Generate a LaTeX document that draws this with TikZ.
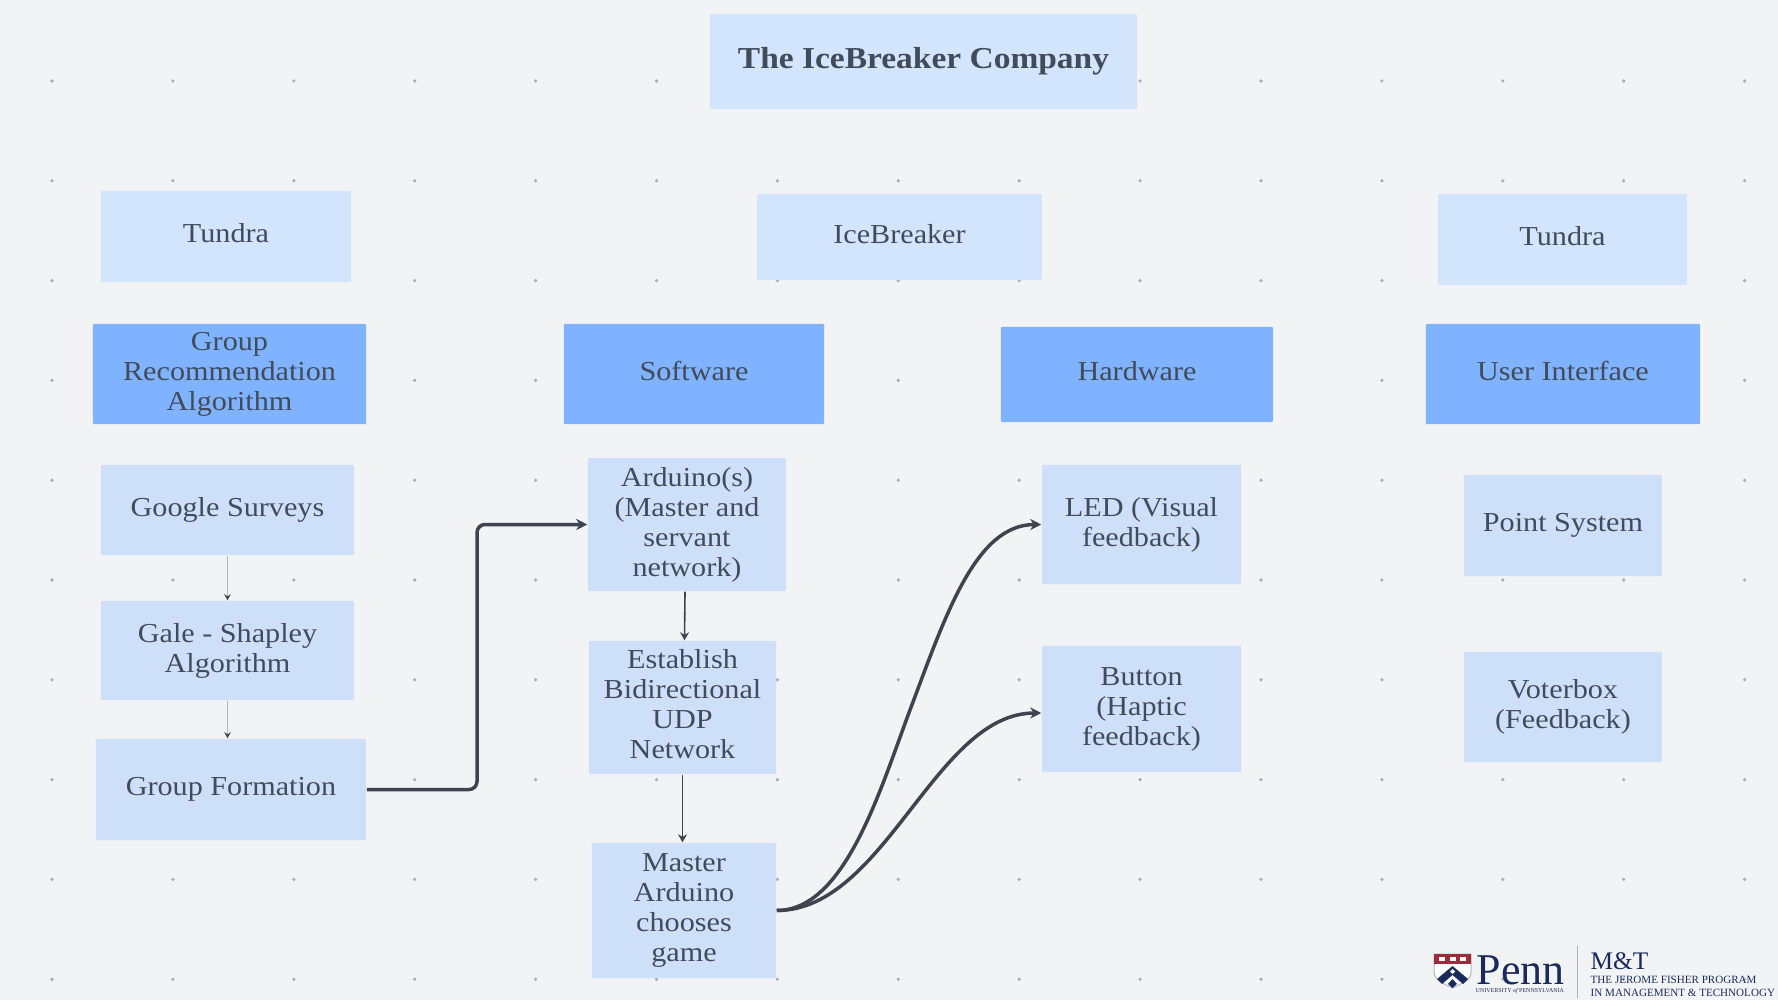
\documentclass[tikz,border=0pt]{standalone}
\usepackage{fontspec}
\usepackage{xcolor}
\setmainfont[FakeStretch=1.1]{Liberation Serif}
\newfontfamily\logofont{Liberation Serif}
\usetikzlibrary{arrows.meta,calc,positioning}

\definecolor{canvasgrey}{HTML}{F2F3F5}
\definecolor{dotgrey}{HTML}{A9ACB1}
\definecolor{inkgrey}{HTML}{414B5A}
\definecolor{linegrey}{HTML}{3D4450}
\definecolor{fadegrey}{HTML}{B4B7BC}
\definecolor{paleblue}{HTML}{D3E4FD}
\definecolor{softblue}{HTML}{CEE0F9}
\definecolor{strongblue}{HTML}{7FB2FF}
\definecolor{pennnavy}{HTML}{1B2A5C}
\definecolor{pennred}{HTML}{9E2A3A}

\tikzset{
    blockbase/.style={
        rounded corners=0.01cm,
        align=center,
        text=inkgrey,
        inner sep=0pt,
        font=\fontsize{7.8pt}{8.55pt}\selectfont
    },
    paleblock/.style={blockbase, fill=paleblue},
    softblock/.style={blockbase, fill=softblue},
    strongblock/.style={blockbase, fill=strongblue},
    lifted/.style={text depth=0.07cm},
    fadearrow/.style={
        -{Stealth[length=0.06cm,width=0.065cm,color=linegrey]},
        line width=0.015cm,
        color=fadegrey
    },
    thinarrow/.style={
        -{Stealth[length=0.08cm,width=0.09cm]},
        line width=0.016cm,
        color=linegrey
    },
    thickarrow/.style={
        -{Stealth[length=0.11cm,width=0.11cm]},
        line width=0.035cm,
        color=linegrey
    },
    logotext/.style={
        anchor=west,
        inner sep=0pt,
        text=pennnavy
    }
}

\begin{document}
\begin{tikzpicture}[x=0.01cm,y=-0.01cm]
                \useasboundingbox (0,0) rectangle (1778,1000);
                \fill[canvasgrey] (0,0) rectangle (1778,1000);

                % dot grid
                \foreach \row in {0,...,9} {
                    \foreach \col in {0,...,14} {
                        \fill[dotgrey] ({52+120.9*\col},{81+99.8*\row}) circle (0.018cm);
                    }
                }

                % top row
                \node[paleblock, minimum width=4.27cm, minimum height=0.95cm, font=\fontsize{8.65pt}{9pt}\selectfont\bfseries] (company) at (923.5,61.5) {The IceBreaker Company};
                \node[paleblock, lifted, minimum width=2.50cm, minimum height=0.91cm] (tundraleft) at (226,236.5) {Tundra};
                \node[paleblock, lifted, minimum width=2.85cm, minimum height=0.86cm] (icebreaker) at (899.5,237) {IceBreaker};
                \node[paleblock, lifted, minimum width=2.49cm, minimum height=0.91cm] (tundraright) at (1562.5,239.5) {Tundra};

                % headers
                \node[strongblock, minimum width=2.73cm, minimum height=1.00cm] (recommend) at (229.5,374) {Group\\Recommendation\\Algorithm};
                \node[strongblock, lifted, minimum width=2.60cm, minimum height=1.00cm] (software) at (694,374) {Software};
                \node[strongblock, lifted, minimum width=2.72cm, minimum height=0.95cm] (hardware) at (1137,374.5) {Hardware};
                \node[strongblock, lifted, minimum width=2.74cm, minimum height=1.00cm] (interface) at (1563,374) {User Interface};

                % left column
                \node[softblock, minimum width=2.53cm, minimum height=0.90cm] (surveys) at (227.5,510) {Google Surveys};
                \node[softblock, minimum width=2.53cm, minimum height=0.99cm] (shapley) at (227.5,650.5) {Gale - Shapley\\Algorithm};
                \node[softblock, minimum width=2.70cm, minimum height=1.01cm] (formation) at (231,789.5) {Group Formation};

                % middle column
                \node[softblock, minimum width=1.98cm, minimum height=1.33cm] (arduino) at (687,524.5) {Arduino(s)\\(Master and\\servant\\network)};
                \node[softblock, lifted, minimum width=1.87cm, minimum height=1.33cm] (establish) at (682.5,707.5) {Establish\\Bidirectional\\UDP\\Network};
                \node[softblock, minimum width=1.84cm, minimum height=1.35cm] (master) at (684,910.5) {Master\\Arduino\\chooses\\game};

                % right columns
                \node[softblock, minimum width=1.99cm, minimum height=1.19cm] (led) at (1141.5,524.5) {LED (Visual\\feedback)};
                \node[softblock, minimum width=1.99cm, minimum height=1.26cm] (button) at (1141.5,709) {Button\\(Haptic\\feedback)};
                \node[softblock, minimum width=1.98cm, minimum height=1.01cm] (points) at (1563,525.5) {Point System};
                \node[softblock, minimum width=1.98cm, minimum height=1.10cm] (voterbox) at (1563,707) {Voterbox\\(Feedback)};

                % connectors
                \draw[fadearrow] (surveys) -- (shapley);
                \draw[fadearrow] (shapley.south) -- (shapley.south |- formation.north);
                \draw[thinarrow] ($(arduino.south)+(-2,0)$) -- ($(establish.north)+(2,0)$);
                \draw[thinarrow] (establish.south) -- (establish.south |- master.north);

                \coordinate (elbow) at (477,524.5);
                \draw[thickarrow, rounded corners=0.08cm] (formation.east) -| (elbow) -- (arduino.west);

                \coordinate (ledbend) at (910,710);
                \draw[thickarrow] (master.east) .. controls (845,910.5) and (880,790) .. (ledbend)
                    .. controls (945,617) and (975,524.5) .. (led.west);
                \draw[thickarrow] (master.east) .. controls (885,910.5) and (935,713) .. ($(button.west)+(0,4)$);

                % logo
                \draw[fill=white, draw=fadegrey, line width=0.01cm] (1434,954) -- (1471,954) -- (1471,972)
                    .. controls (1471,981) and (1460,984) .. (1452.5,988)
                    .. controls (1445,984) and (1434,981) .. (1434,972) -- cycle;
                \fill[pennred] (1434,954) rectangle (1471,964);
                \foreach \col in {1439,1449.5,1460} {
                    \fill[white] (\col,957) rectangle ++(6,4);
                }
                \fill[pennnavy] (1452.5,966) -- (1468,979) -- (1463,984) -- (1452.5,975) -- (1442,984) -- (1437,979) -- cycle;
                \fill[white] (1452.5,969) -- (1455,971.5) -- (1452.5,974) -- (1450,971.5) -- cycle;
                \fill[pennnavy] (1452.5,979) -- (1457,984) -- (1452.5,988) -- (1448,984) -- cycle;
                \node[logotext, font=\logofont\fontsize{12.5pt}{12.5pt}\selectfont] (penn) at (1476,970) {Penn};
                \node[logotext, font=\logofont\fontsize{1.7pt}{2pt}\selectfont] (university) at (1475,991.5) {UNIVERSITY \itshape of \upshape PENNSYLVANIA};
                \node[inner sep=0pt, minimum width=0pt, minimum height=0pt] (ruletop) at (1577,945) {};
                \node[inner sep=0pt, minimum width=0pt, minimum height=0pt] (rulebottom) at (1577,999) {};
                \draw[dotgrey, line width=0.01cm] (ruletop) -- (rulebottom);
                \node[logotext, font=\logofont\fontsize{7.2pt}{8pt}\selectfont] (mandt) at (1590,961) {M\&T};
                \node[logotext, font=\logofont\fontsize{3.15pt}{4pt}\selectfont] (fisher) at (1590,980) {THE JEROME FISHER PROGRAM};
                \node[logotext, font=\logofont\fontsize{3.15pt}{4pt}\selectfont] (management) at (1590,993) {IN MANAGEMENT \& TECHNOLOGY};
            \end{tikzpicture}
\end{document}
